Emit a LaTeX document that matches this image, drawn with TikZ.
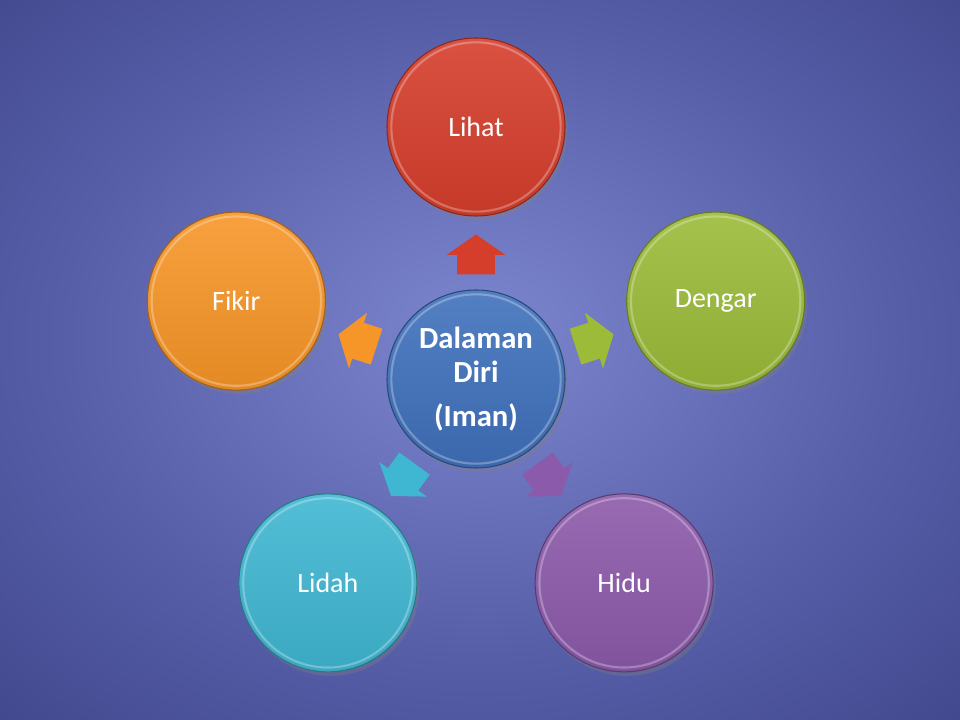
\documentclass[tikz,border=0pt]{standalone}
\usepackage{fontspec}
\setmainfont{Carlito}
\usepackage{xcolor}
\usepackage{tikz}
\usetikzlibrary{positioning,calc,shapes.arrows,shadows}

\definecolor{bgin}{RGB}{124,134,206}
\definecolor{bgmid}{RGB}{86,94,168}
\definecolor{bgout}{RGB}{46,52,116}
\definecolor{bgcorner}{RGB}{20,32,82}
\definecolor{diric}{RGB}{64,113,188}
\definecolor{lihatc}{RGB}{214,62,44}
\definecolor{dengarc}{RGB}{155,187,57}
\definecolor{hiduc}{RGB}{140,90,170}
\definecolor{lidahc}{RGB}{64,183,210}
\definecolor{fikirc}{RGB}{247,150,40}

\pgfdeclareradialshading{bgshade}{\pgfpoint{0bp}{2bp}}{color(0bp)=(bgin); color(22bp)=(bgmid); color(50bp)=(bgout); color(72bp)=(bgcorner)}

\begin{document}
\begin{tikzpicture}[
      x = 0.75pt, y = 0.75pt,
      ball/.style={circle, minimum size = 133.5pt, inner sep = 0pt,
        draw = #1!65!black, line width = .8pt,
        top color = #1!90!white, bottom color = #1!92!black,
        text = white, align = center,
        font = \fontsize{21}{24}\selectfont,
        drop shadow = {opacity = .35, shadow xshift = 2pt, shadow yshift = -3pt},
        path picture = {\draw[white, opacity = .28, line width = 1.6pt]
          (path picture bounding box.center) circle (63.5pt);}},
      blok/.style={single arrow, draw = none, fill = #1,
        inner xsep = 0pt, inner ysep = 13.9pt,
        minimum height = 30pt, minimum width = 43.5pt,
        single arrow head extend = 7.9pt, single arrow tip angle = 110},
    ]
      % background
      \fill[shading = bgshade] (0,0) rectangle (960,720);
      \useasboundingbox (0,0) rectangle (960,720);

      % middle
      \node[ball = diric, font = \fontsize{23}{25.5}\selectfont\bfseries]
        (diri) at (476,341) {Dalaman\\Diri\\[7pt](Iman)};

      % senses round it
      \foreach \ang/\col/\txt/\nm in {90/lihatc/Lihat/lihat,
          18/dengarc/Dengar/dengar, -54/hiduc/Hidu/hidu,
          -126/lidahc/Lidah/lidah, 162/fikirc/Fikir/fikir}
      {
        \node[blok = \col, rotate = \ang] (\nm arr) at ($ (diri) + (\ang:118) $) {};
        \node[ball = \col] (\nm) at ($ (diri) + (\ang:252) $) {\txt};
      }
    \end{tikzpicture}
\end{document}
